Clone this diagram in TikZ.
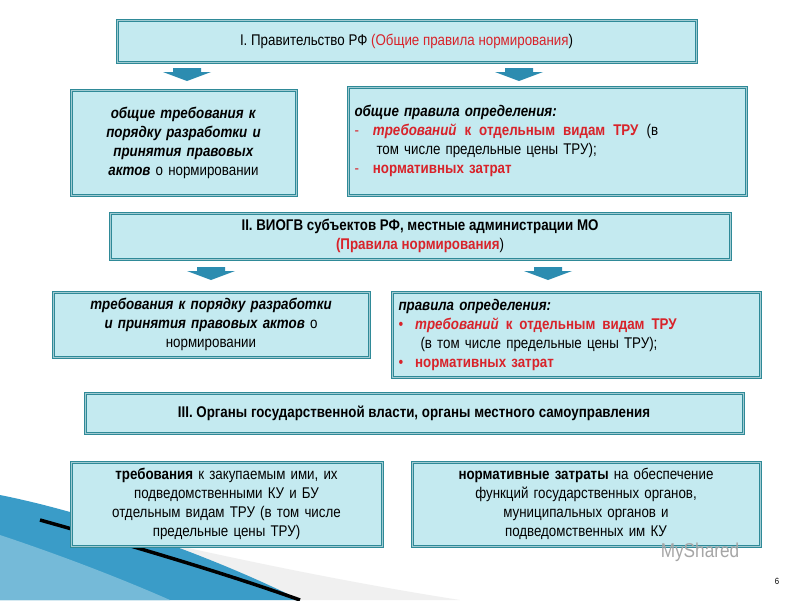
\documentclass[tikz,border=0pt]{standalone}
\usepackage{fontspec}
\setmainfont{Liberation Sans}[FakeStretch=0.86]
\usetikzlibrary{calc}
\definecolor{boxfill}{HTML}{C4EAF0}
\definecolor{boxline}{HTML}{2F8A98}
\definecolor{arr}{HTML}{2C8CB0}
\definecolor{rd}{HTML}{D8232A}
\definecolor{swoosh}{HTML}{3A9CC8}
\tikzset{
 box/.style={draw=boxline,fill=boxfill,line width=3pt,inner sep=3pt,
   font=\fontsize{15.5}{19}\selectfont,align=center,
   postaction={draw=white!55!boxline,line width=0.6pt}},
 blockarrow/.style={fill=arr,draw=none}
}
\newcommand{\redt}[1]{\textcolor{rd}{#1}}
\begin{document}
\begin{tikzpicture}[x=1pt,y=-1pt]
\useasboundingbox (0,0) rectangle (800,600);
\fill[white] (0,0) rectangle (800,600);
% swoosh decoration
\fill[gray!12] (0,505) .. controls (150,540) and (300,575) .. (460,600) -- (0,600) -- cycle;
\fill[swoosh] (0,495) .. controls (100,515) and (220,560) .. (300,600) -- (0,600) -- cycle;
\fill[swoosh!70!white] (0,535) .. controls (60,555) and (120,578) .. (170,600) -- (0,600) -- cycle;
\draw[black,line width=3.5pt] (40,520) .. controls (140,548) and (230,575) .. (300,600);
% boxes
\node[box,minimum width=579,minimum height=42] (g1) at (406.5,41) {I. Правительство РФ \redt{(Общие правила нормирования})};
\node[box,minimum width=225,minimum height=105,text width=210] (a1) at (183.5,142.5)
 {\textit{\textbf{общие требования к}}\\\textit{\textbf{порядку разработки и}}\\\textit{\textbf{принятия правовых}}\\\textit{\textbf{актов}} о нормировании};
\node[box,minimum width=398,minimum height=108,text width=385,align=left] (b1) at (547,141)
 {\textit{\textbf{общие правила определения:}}\\
 \redt{-}\hspace{14pt}\textcolor{rd}{\textit{\textbf{требований}}\hspace{8pt}\textbf{к\hspace{8pt}отдельным\hspace{8pt}видам\hspace{8pt}ТРУ}}\hspace{8pt}(в\\
 \hspace{22pt}том числе предельные цены ТРУ);\\
 \redt{-}\hspace{14pt}\textcolor{rd}{\textbf{нормативных затрат}}};
\node[box,minimum width=620,minimum height=46] (g2) at (420,236)
 {\textbf{II. ВИОГВ субъектов РФ, местные администрации МО}\\\textcolor{rd}{\textbf{(Правила нормирования}})};
\node[box,minimum width=316,minimum height=65,text width=305] (a2) at (211,324.5)
 {\textit{\textbf{требования к порядку разработки}}\\\textit{\textbf{и принятия правовых актов}} о\\нормировании};
\node[box,minimum width=368,minimum height=85,text width=355,align=left] (b2) at (576,334.5)
 {\textit{\textbf{правила определения:}}\\
 \redt{•}\hspace{12pt}\textcolor{rd}{\textit{\textbf{требований}}\hspace{7pt}\textbf{к\hspace{7pt}отдельным\hspace{7pt}видам\hspace{7pt}ТРУ}}\\
 \hspace{22pt}(в том числе предельные цены ТРУ);\\
 \redt{•}\hspace{12pt}\textcolor{rd}{\textbf{нормативных затрат}}};
\node[box,minimum width=658,minimum height=40] (g3) at (414,413)
 {\textbf{III. Органы государственной власти, органы местного самоуправления}};
\node[box,minimum width=311,minimum height=84,text width=300] (a3) at (226.5,504)
 {\textbf{требования} к закупаемым ими, их\\подведомственными КУ и БУ\\отдельным видам ТРУ (в том числе\\предельные цены ТРУ)};
\node[box,minimum width=348,minimum height=84,text width=335] (b3) at (586,504)
 {\textbf{нормативные затраты} на обеспечение\\функций государственных органов,\\муниципальных органов и\\подведомственных им КУ};
% block arrows
\foreach \cx/\cy in {187/68,519/68,211/267,548/267}{
 \fill[blockarrow] (\cx-14,\cy) -- (\cx+14,\cy) -- (\cx+14,\cy+4) -- (\cx+24,\cy+4) -- (\cx,\cy+13) -- (\cx-24,\cy+4) -- (\cx-14,\cy+4) -- cycle;
}
\node[gray!70,font=\fontsize{20}{22}\selectfont] (wm) at (700,552) {MyShared};
\node[font=\fontsize{9}{10}\selectfont] (pn) at (777,581) {6};
\end{tikzpicture}
\end{document}
